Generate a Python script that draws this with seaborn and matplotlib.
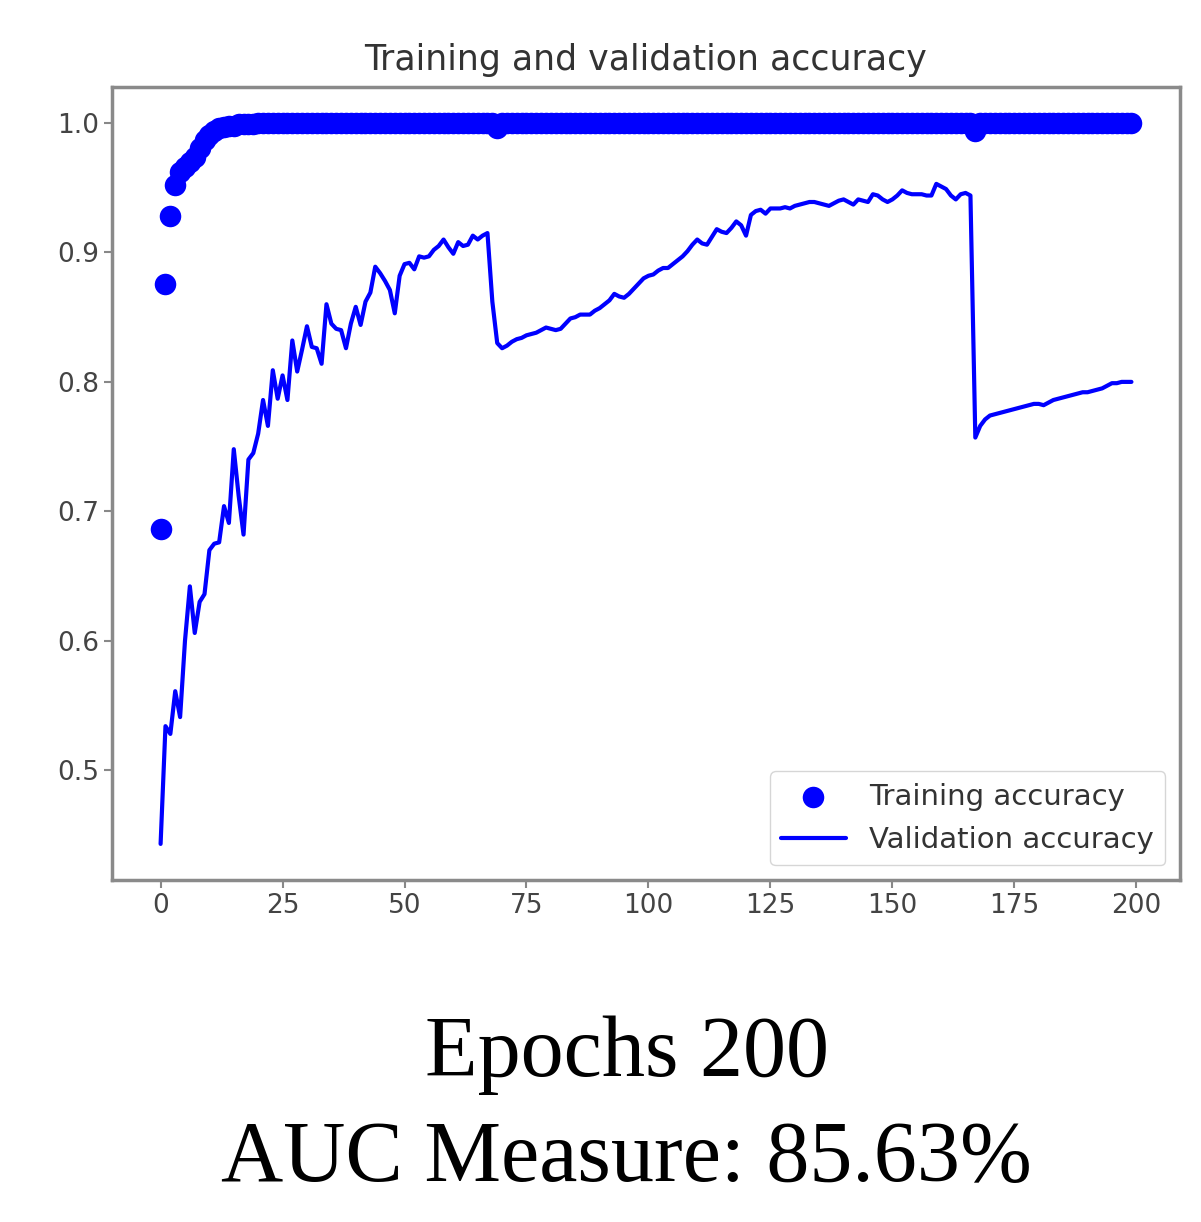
import pandas as pd
import seaborn as sns
import matplotlib.pyplot as plt

sns.set_style("white")
plt.rcParams['font.family'] = ['DejaVu Sans']

# values
epochs = list(range(200))

train_acc = [
    0.686, 0.876, 0.928, 0.952, 0.962, 0.966, 0.970, 0.974, 0.981, 0.987,
    0.991, 0.994, 0.996, 0.997, 0.998, 0.998, 0.999, 0.999, 0.999, 0.999,
    1.0, 1.0, 1.0, 1.0, 1.0, 1.0, 1.0, 1.0, 1.0, 1.0,
    1.0, 1.0, 1.0, 1.0, 1.0, 1.0, 1.0, 1.0, 1.0, 1.0,
    1.0, 1.0, 1.0, 1.0, 1.0, 1.0, 1.0, 1.0, 1.0, 1.0,
    1.0, 1.0, 1.0, 1.0, 1.0, 1.0, 1.0, 1.0, 1.0, 1.0,
    1.0, 1.0, 1.0, 1.0, 1.0, 1.0, 1.0, 1.0, 1.0, 0.996,
    1.0, 1.0, 1.0, 1.0, 1.0, 1.0, 1.0, 1.0, 1.0, 1.0,
    1.0, 1.0, 1.0, 1.0, 1.0, 1.0, 1.0, 1.0, 1.0, 1.0,
    1.0, 1.0, 1.0, 1.0, 1.0, 1.0, 1.0, 1.0, 1.0, 1.0,
    1.0, 1.0, 1.0, 1.0, 1.0, 1.0, 1.0, 1.0, 1.0, 1.0,
    1.0, 1.0, 1.0, 1.0, 1.0, 1.0, 1.0, 1.0, 1.0, 1.0,
    1.0, 1.0, 1.0, 1.0, 1.0, 1.0, 1.0, 1.0, 1.0, 1.0,
    1.0, 1.0, 1.0, 1.0, 1.0, 1.0, 1.0, 1.0, 1.0, 1.0,
    1.0, 1.0, 1.0, 1.0, 1.0, 1.0, 1.0, 1.0, 1.0, 1.0,
    1.0, 1.0, 1.0, 1.0, 1.0, 1.0, 1.0, 1.0, 1.0, 1.0,
    1.0, 1.0, 1.0, 1.0, 1.0, 1.0, 1.0, 0.994, 1.0, 1.0,
    1.0, 1.0, 1.0, 1.0, 1.0, 1.0, 1.0, 1.0, 1.0, 1.0,
    1.0, 1.0, 1.0, 1.0, 1.0, 1.0, 1.0, 1.0, 1.0, 1.0,
    1.0, 1.0, 1.0, 1.0, 1.0, 1.0, 1.0, 1.0, 1.0, 1.0,
]

val_acc = [
    0.443, 0.534, 0.528, 0.561, 0.541, 0.600, 0.642, 0.606, 0.630, 0.636,
    0.670, 0.675, 0.676, 0.704, 0.691, 0.748, 0.712, 0.682, 0.740, 0.745,
    0.760, 0.786, 0.766, 0.809, 0.787, 0.805, 0.786, 0.832, 0.808, 0.825,
    0.843, 0.827, 0.826, 0.814, 0.860, 0.845, 0.841, 0.840, 0.826, 0.845,
    0.858, 0.844, 0.862, 0.869, 0.889, 0.884, 0.878, 0.871, 0.853, 0.882,
    0.891, 0.892, 0.887, 0.897, 0.896, 0.897, 0.902, 0.905, 0.910, 0.904,
    0.899, 0.908, 0.905, 0.906, 0.913, 0.910, 0.913, 0.915, 0.862, 0.830,
    0.826, 0.828, 0.831, 0.833, 0.834, 0.836, 0.837, 0.838, 0.840, 0.842,
    0.841, 0.840, 0.841, 0.845, 0.849, 0.850, 0.852, 0.852, 0.852, 0.855,
    0.857, 0.860, 0.863, 0.868, 0.866, 0.865, 0.868, 0.872, 0.876, 0.880,
    0.882, 0.883, 0.886, 0.888, 0.888, 0.891, 0.894, 0.897, 0.901, 0.906,
    0.910, 0.907, 0.906, 0.912, 0.918, 0.916, 0.915, 0.919, 0.924, 0.921,
    0.913, 0.929, 0.932, 0.933, 0.930, 0.934, 0.934, 0.934, 0.935, 0.934,
    0.936, 0.937, 0.938, 0.939, 0.939, 0.938, 0.937, 0.936, 0.938, 0.940,
    0.941, 0.939, 0.937, 0.941, 0.940, 0.939, 0.945, 0.944, 0.941, 0.939,
    0.941, 0.944, 0.948, 0.946, 0.945, 0.945, 0.945, 0.944, 0.944, 0.953,
    0.951, 0.949, 0.944, 0.941, 0.945, 0.946, 0.944, 0.757, 0.766, 0.771,
    0.774, 0.775, 0.776, 0.777, 0.778, 0.779, 0.780, 0.781, 0.782, 0.783,
    0.783, 0.782, 0.784, 0.786, 0.787, 0.788, 0.789, 0.790, 0.791, 0.792,
    0.792, 0.793, 0.794, 0.795, 0.797, 0.799, 0.799, 0.800, 0.800, 0.800,
]

x_ticks = [0, 25, 50, 75, 100, 125, 150, 175, 200]
y_ticks = [0.5, 0.6, 0.7, 0.8, 0.9, 1.0]
title = "Training and validation accuracy"
caption = ["Epochs 200", "AUC Measure: 85.63%"]

df = pd.DataFrame({'epoch': epochs, 'train': train_acc, 'val': val_acc})

fig = plt.figure(figsize=(12.01, 12.22), dpi=100)
ax = fig.add_axes([0.0933, 0.2799, 0.8892, 0.6489])

sns.scatterplot(data=df, x='epoch', y='train', color='blue', s=15.5 ** 2,
                linewidth=0, label='Training accuracy', ax=ax)
sns.lineplot(data=df, x='epoch', y='val', color='blue', linewidth=3,
             label='Validation accuracy', ax=ax)

ax.set_xticks(x_ticks)
ax.set_yticks(y_ticks)
ax.set_xlabel('')
ax.set_ylabel('')
ax.set_title(title, fontsize=25, color='#333333', pad=12)
ax.tick_params(axis='both', labelsize=19, labelcolor='#444444', color='#888888',
               length=6, width=1.5, bottom=True, left=True)
for spine in ax.spines.values():
    spine.set_color('#8a8a8a')
    spine.set_linewidth(2.5)

ax.legend(loc='lower right', fontsize=21, frameon=True, edgecolor='#cccccc',
          labelcolor='#333333', handlelength=2.2)

fig.text(0.522, 0.1367, caption[0], ha='center', va='center', color='black',
         fontsize=62, family='Liberation Serif')
fig.text(0.522, 0.0507, caption[1], ha='center', va='center', color='black',
         fontsize=62, family='Liberation Serif')

fig.savefig('out.png', dpi=100)
